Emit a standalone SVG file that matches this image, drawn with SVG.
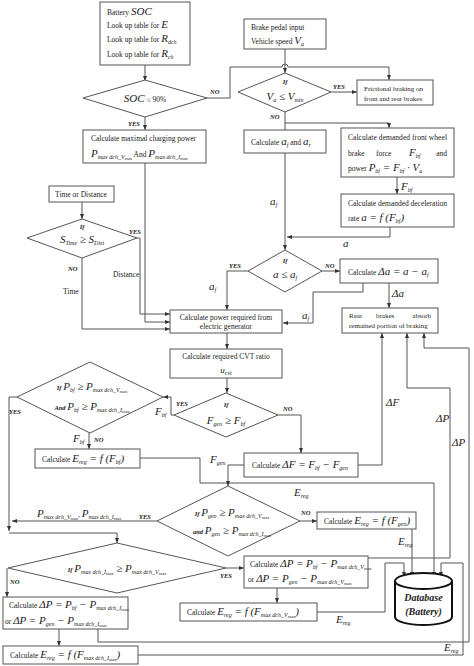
<svg xmlns="http://www.w3.org/2000/svg" width="474" height="666" viewBox="0 0 474 666">
<defs>
<marker id="ar" viewBox="0 0 10 10" refX="10" refY="5" markerWidth="5" markerHeight="5" markerUnits="userSpaceOnUse" orient="auto"><path d="M0,1 L10,5 L0,9 Z" fill="#333"/></marker>
</defs>
<style>
.bx{fill:#fff;stroke:#555;stroke-width:1}
.c path{fill:none;stroke:#555;stroke-width:1;marker-end:url(#ar)}
.c path.n{marker-end:none}
text{font-family:"Liberation Serif","Times New Roman",serif;font-size:7.5px;fill:#222}
.sm{font-size:7px}
.mi{font-style:italic;font-size:11px}
.sb{font-style:italic;font-size:6px}
.ss{font-style:italic;font-size:4.5px}
.yn{font-style:italic;font-weight:bold;font-size:6.5px}
.mid{text-anchor:middle}
.db{font-style:italic;font-weight:bold;font-size:10px;text-anchor:middle}
.cyl{fill:#fff;stroke:#111;stroke-width:2}
</style>
<rect width="474" height="666" fill="#fff"/>

<g class="c" id="connectors">
<path d="M145,65 V81"/>
<path d="M145,117 V130"/>
<path d="M207,98 H230 V67 H282 A3,3 0 0 1 288,67 H389 V80"/>
<path d="M285,49 V73"/>
<path d="M331,92 H357"/>
<path class="n" d="M285,112 V130"/>
<path d="M285,123 H389 V128"/>
<path d="M397,177 V194"/>
<path d="M390,227 V237 H287"/>
<path d="M285,153 V250"/>
<path d="M322,271 H340"/>
<path d="M248,271 H227 V310"/>
<path d="M363,283 V292 H313 V323 H283"/>
<path d="M389,283 V308"/>
<path d="M358,465 H382 V333"/>
<path d="M368,558 H450 V388 H407 V333"/>
<path d="M98,629 V642 H469 V348 H424 V333"/>
<path d="M145,163 V322 H170"/>
<path d="M82,202 V219"/>
<path d="M137,238 H140 V314 H170"/>
<path d="M82,258 V329 H170"/>
<path d="M227,333 V349"/>
<path d="M227,378 V393"/>
<path d="M174,415 H171 V397 H163"/>
<path d="M278,415 H301 V453"/>
<path d="M17,397 H9 V531"/>
<path d="M9,533 H117 V543"/>
<path d="M89,433 V449"/>
<path d="M140,458 H200 V483 H434 V577"/>
<path d="M244,465 H228 V486"/>
<path d="M300,521 H317"/>
<path d="M157,521 H12"/>
<path d="M412,529 V577"/>
<path d="M226,568 H244"/>
<path d="M7,568 V597"/>
<path d="M277,588 V603"/>
<path d="M317,612 H385 V563 H404 V577"/>
<path d="M59,629 V646"/>
<path d="M138,655 H463 V563 H441 V577"/>
</g>

<g id="n-battery"><rect class="bx" x="100" y="2" width="90" height="63"/>
<text x="107" y="15">Battery <tspan class="mi">SOC</tspan></text>
<text x="107" y="28">Look up table for <tspan class="mi">E</tspan></text>
<text x="107" y="42">Look up table for <tspan class="mi">R</tspan><tspan class="sb" dy="2">dch</tspan></text>
<text x="107" y="57">Look up table for <tspan class="mi">R</tspan><tspan class="sb" dy="2">ch</tspan></text></g>

<g id="n-soc"><polygon class="bx" points="83,98 145,80 207,98 145,117"/>
<text class="mid" x="145" y="102" font-size="11"><tspan class="mi">SOC</tspan> ≤ 90%</text>
<text class="yn" x="210" y="94">NO</text><text class="yn" x="128" y="126">YES</text></g>

<g id="n-brake"><rect class="bx" x="244" y="19" width="82" height="30"/>
<text x="251" y="30">Brake pedal input</text>
<text x="251" y="44">Vehicle speed <tspan class="mi">V</tspan><tspan class="sb" dy="2">a</tspan></text></g>

<g id="n-va"><polygon class="bx" points="238,92 285,73 331,92 285,112"/>
<text class="yn mid" x="285" y="84">If</text>
<text class="mid" x="285" y="100"><tspan class="mi">V</tspan><tspan class="sb" dy="2">a</tspan><tspan class="mi" dy="-2"> ≤ V</tspan><tspan class="sb" dy="2">min</tspan></text>
<text class="yn" x="333" y="89">YES</text><text class="yn" x="270" y="119">NO</text></g>

<g id="n-friction"><rect class="bx" x="357" y="80" width="76" height="25"/>
<text class="sm" x="364" y="91">Frictional braking on</text>
<text class="sm" x="364" y="101">front and rear brakes</text></g>

<g id="n-afar"><rect class="bx" x="244" y="130" width="82" height="23"/>
<text x="251" y="145">Calculate <tspan class="mi">a</tspan><tspan class="sb" dy="2">f</tspan><tspan dy="-2"> and </tspan><tspan class="mi">a</tspan><tspan class="sb" dy="2">r</tspan></text></g>

<g id="n-demand"><rect class="bx" x="341" y="128" width="113" height="49"/>
<text x="348" y="140" textLength="99" lengthAdjust="spacing">Calculate demanded front wheel</text>
<text x="348" y="156">brake</text><text x="376" y="156">force</text>
<text x="409" y="156"><tspan class="mi">F</tspan><tspan class="sb" dy="2">bf</tspan></text>
<text x="447" y="156" text-anchor="end">and</text>
<text x="348" y="171">power <tspan class="mi">P</tspan><tspan class="sb" dy="2">bf</tspan><tspan class="mi" dy="-2"> = F</tspan><tspan class="sb" dy="2">bf</tspan><tspan class="mi" dy="-2"> · V</tspan><tspan class="sb" dy="2">a</tspan></text></g>

<g id="n-decel"><rect class="bx" x="341" y="194" width="113" height="33"/>
<text x="348" y="206" textLength="99" lengthAdjust="spacing">Calculate demanded deceleration</text>
<text x="348" y="221">rate <tspan class="mi">a = f (F</tspan><tspan class="sb" dy="2">bf</tspan><tspan class="mi" dy="-2">)</tspan></text></g>

<g id="n-aaf"><polygon class="bx" points="248,271 285,250 322,271 285,292"/>
<text class="yn mid" x="285" y="263">If</text>
<text class="mid" x="285" y="278"><tspan class="mi">a ≤ a</tspan><tspan class="sb" dy="2">f</tspan></text>
<text class="yn" x="229" y="268">YES</text><text class="yn" x="325" y="268">NO</text></g>

<g id="n-da"><rect class="bx" x="340" y="259" width="98" height="24"/>
<text x="348" y="275">Calculate <tspan class="mi">Δa = a − a</tspan><tspan class="sb" dy="2">f</tspan></text></g>

<g id="n-rear"><rect class="bx" x="342" y="308" width="96" height="25"/>
<text class="sm" x="349" y="318">Rear</text><text class="sm" x="376" y="318">brakes</text><text class="sm" x="431" y="318" text-anchor="end">absorb</text>
<text class="sm" x="349" y="328">remained portion of braking</text></g>

<g id="n-maxch"><rect class="bx" x="83" y="130" width="123" height="33"/>
<text x="91" y="141">Calculate maximal charging power</text>
<text x="91" y="157"><tspan class="mi">P</tspan><tspan class="sb" dy="2">max dch_V</tspan><tspan class="ss" dy="1">max</tspan><tspan dy="-3"> And </tspan><tspan class="mi">P</tspan><tspan class="sb" dy="2">max dch_I</tspan><tspan class="ss" dy="1">max</tspan></text></g>

<g id="n-timedist"><rect class="bx" x="49" y="186" width="65" height="16"/>
<text class="mid" x="81" y="197">Time or Distance</text></g>

<g id="n-sdiam"><polygon class="bx" points="27,238 82,219 137,238 82,258"/>
<text class="yn mid" x="82" y="229">If</text>
<text class="mid" x="82" y="243"><tspan class="mi">S</tspan><tspan class="sb" dy="2">Time</tspan><tspan class="mi" dy="-2"> ≥ S</tspan><tspan class="sb" dy="2">Dist</tspan></text>
<text class="yn" x="129" y="234">YES</text><text class="yn" x="68" y="271">NO</text></g>

<g id="n-power"><rect class="bx" x="170" y="310" width="112" height="23"/>
<text class="mid" x="226" y="320">Calculate power required from</text>
<text class="mid" x="226" y="329">electric generator</text></g>

<g id="n-cvt"><rect class="bx" x="170" y="349" width="112" height="29"/>
<text class="mid" x="226" y="359">Calculate required CVT ratio</text>
<text class="mid" x="226" y="373"><tspan font-style="italic" font-size="9">u</tspan><tspan class="sb" dy="2">cvt</tspan></text></g>

<g id="n-fgen"><polygon class="bx" points="174,415 226,393 278,415 226,437"/>
<text class="yn mid" x="226" y="407">If</text>
<text class="mid" x="226" y="424"><tspan class="mi">F</tspan><tspan class="sb" dy="2">gen</tspan><tspan class="mi" dy="-2"> ≥ F</tspan><tspan class="sb" dy="2">bf</tspan></text>
<text class="yn" x="176" y="406">YES</text><text class="yn" x="283" y="411">NO</text></g>

<g id="n-pbf"><polygon class="bx" points="17,397 90,362 163,397 90,433"/>
<text class="mid" x="92" y="390"><tspan class="yn">If </tspan><tspan class="mi">P</tspan><tspan class="sb" dy="2">bf</tspan><tspan class="mi" dy="-2"> ≥ P</tspan><tspan class="sb" dy="2">max dch_V</tspan><tspan class="ss" dy="1">max</tspan></text>
<text class="mid" x="92" y="410"><tspan class="yn">And </tspan><tspan class="mi">P</tspan><tspan class="sb" dy="2">bf</tspan><tspan class="mi" dy="-2"> ≥ P</tspan><tspan class="sb" dy="2">max dch_I</tspan><tspan class="ss" dy="1">max</tspan></text>
<text class="yn" x="9" y="414">YES</text><text class="yn" x="94" y="442">NO</text></g>

<g id="n-ebf"><rect class="bx" x="35" y="449" width="105" height="19"/>
<text x="42" y="462">Calculate <tspan class="mi">E</tspan><tspan class="sb" dy="2">reg</tspan><tspan class="mi" dy="-2"> = f (F</tspan><tspan class="sb" dy="2">bf</tspan><tspan class="mi" dy="-2">)</tspan></text></g>

<g id="n-df"><rect class="bx" x="244" y="453" width="114" height="24"/>
<text x="252" y="468">Calculate <tspan class="mi">ΔF = F</tspan><tspan class="sb" dy="2">bf</tspan><tspan class="mi" dy="-2"> − F</tspan><tspan class="sb" dy="2">gen</tspan></text></g>

<g id="n-pgen"><polygon class="bx" points="157,521 228,486 300,521 228,556"/>
<text class="mid" x="232" y="516"><tspan class="yn">If </tspan><tspan class="mi">P</tspan><tspan class="sb" dy="2">gen</tspan><tspan class="mi" dy="-2"> ≥ P</tspan><tspan class="sb" dy="2">max dch_V</tspan><tspan class="ss" dy="1">max</tspan></text>
<text class="mid" x="232" y="534"><tspan class="yn">and </tspan><tspan class="mi">P</tspan><tspan class="sb" dy="2">gen</tspan><tspan class="mi" dy="-2"> ≥ P</tspan><tspan class="sb" dy="2">max dch_I</tspan><tspan class="ss" dy="1">max</tspan></text>
<text class="yn" x="301" y="515">NO</text><text class="yn" x="139" y="519">YES</text></g>

<g id="n-egen"><rect class="bx" x="317" y="512" width="99" height="17"/>
<text x="324" y="524">Calculate <tspan class="mi">E</tspan><tspan class="sb" dy="2">reg</tspan><tspan class="mi" dy="-2"> = f (F</tspan><tspan class="sb" dy="2">gen</tspan><tspan class="mi" dy="-2">)</tspan></text></g>

<g id="n-pmax"><polygon class="bx" points="8,568 117,543 226,568 117,593"/>
<text class="mid" x="117" y="572"><tspan class="yn">If  </tspan><tspan class="mi">P</tspan><tspan class="sb" dy="2">max dch_I</tspan><tspan class="ss" dy="1">max</tspan><tspan class="mi" dy="-3"> ≥ P</tspan><tspan class="sb" dy="2">max dch_V</tspan><tspan class="ss" dy="1">max</tspan></text>
<text class="yn" x="220" y="578">YES</text><text class="yn" x="10" y="584">NO</text></g>

<g id="n-dpv"><rect class="bx" x="244" y="556" width="124" height="32"/>
<text x="250" y="567">Calculate <tspan class="mi">ΔP = P</tspan><tspan class="sb" dy="2">bf</tspan><tspan class="mi" dy="-2"> − P</tspan><tspan class="sb" dy="2">max dch_V</tspan><tspan class="ss" dy="1">max</tspan></text>
<text x="248" y="582">or <tspan class="mi">ΔP = P</tspan><tspan class="sb" dy="2">gen</tspan><tspan class="mi" dy="-2"> − P</tspan><tspan class="sb" dy="2">max dch_V</tspan><tspan class="ss" dy="1">max</tspan></text></g>

<g id="n-ev"><rect class="bx" x="180" y="603" width="137" height="18"/>
<text x="187" y="615">Calculate <tspan class="mi">E</tspan><tspan class="sb" dy="2">reg</tspan><tspan class="mi" dy="-2"> = f (F</tspan><tspan class="sb" dy="2">max dch_V</tspan><tspan class="ss" dy="1">max</tspan><tspan class="mi" dy="-3">)</tspan></text></g>

<g id="n-dpi"><rect class="bx" x="3" y="597" width="125" height="32"/>
<text x="9" y="608">Calculate <tspan class="mi">ΔP = P</tspan><tspan class="sb" dy="2">bf</tspan><tspan class="mi" dy="-2"> − P</tspan><tspan class="sb" dy="2">max dch_I</tspan><tspan class="ss" dy="1">max</tspan></text>
<text x="5" y="624">or <tspan class="mi">ΔP = P</tspan><tspan class="sb" dy="2">gen</tspan><tspan class="mi" dy="-2"> − P</tspan><tspan class="sb" dy="2">max dch_I</tspan><tspan class="ss" dy="1">max</tspan></text></g>

<g id="n-ei"><rect class="bx" x="3" y="646" width="135" height="18"/>
<text x="10" y="658">Calculate <tspan class="mi">E</tspan><tspan class="sb" dy="2">reg</tspan><tspan class="mi" dy="-2"> = f (F</tspan><tspan class="sb" dy="2">max dch_I</tspan><tspan class="ss" dy="1">max</tspan><tspan class="mi" dy="-3">)</tspan></text></g>

<g id="n-db">
<path class="cyl" d="M395,581 V617 A28.5,8 0 0 0 452,617 V581 A28.5,8 0 0 0 395,581 Z"/>
<path class="cyl" fill="none" d="M395,581 A28.5,8 0 0 0 452,581"/>
<text class="db" x="423.5" y="601">Database</text>
<text class="db" x="423.5" y="615">(Battery)</text></g>

<g id="labels">
<text x="270" y="205"><tspan class="mi">a</tspan><tspan class="sb" dy="2">f</tspan></text>
<text x="401" y="190"><tspan class="mi">F</tspan><tspan class="sb" dy="2">bf</tspan></text>
<text x="343" y="247"><tspan class="mi">a</tspan></text>
<text x="392" y="297"><tspan class="mi">Δa</tspan></text>
<text x="302" y="319"><tspan class="mi">a</tspan><tspan class="sb" dy="2">f</tspan></text>
<text x="209" y="290"><tspan class="mi">a</tspan><tspan class="sb" dy="2">f</tspan></text>
<text x="113" y="277">Distance</text>
<text x="63" y="294">Time</text>
<text x="155" y="415"><tspan class="mi">F</tspan><tspan class="sb" dy="2">bf</tspan></text>
<text x="73" y="442"><tspan class="mi">F</tspan><tspan class="sb" dy="2">bf</tspan></text>
<text x="210" y="463"><tspan class="mi">F</tspan><tspan class="sb" dy="2">gen</tspan></text>
<text x="386" y="406"><tspan class="mi">ΔF</tspan></text>
<text x="436" y="422"><tspan class="mi" font-style="normal">ΔP</tspan></text>
<text x="452" y="446"><tspan class="mi" font-style="normal">ΔP</tspan></text>
<text x="294" y="496"><tspan class="mi">E</tspan><tspan class="sb" dy="2">reg</tspan></text>
<text x="398" y="545"><tspan class="mi">E</tspan><tspan class="sb" dy="2">reg</tspan></text>
<text x="336" y="623"><tspan class="mi">E</tspan><tspan class="sb" dy="2">reg</tspan></text>
<text x="444" y="651"><tspan class="mi">E</tspan><tspan class="sb" dy="2">reg</tspan></text>
<text x="37" y="517"><tspan class="mi">P</tspan><tspan class="sb" dy="2">max dch_V</tspan><tspan class="ss" dy="1">max</tspan><tspan dy="-3">, </tspan><tspan class="mi">P</tspan><tspan class="sb" dy="2">max dch_I</tspan><tspan class="ss" dy="1">max</tspan></text>
</g>
</svg>
